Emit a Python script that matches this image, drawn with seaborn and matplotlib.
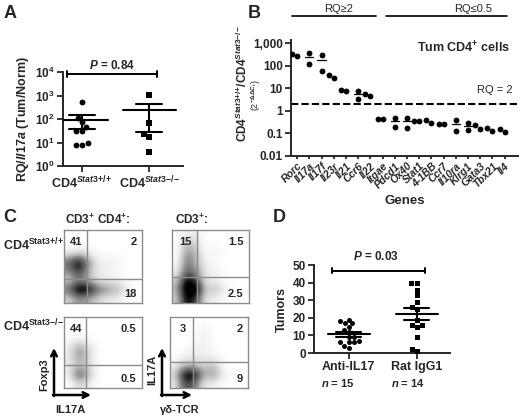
import numpy as np
import pandas as pd
import seaborn as sns
import matplotlib.pyplot as plt

# ---- data ----
# A: RQ of Il17a (tumour / normal)
a_order = ['wt', 'ko']
a_labels = [r'CD4$^{\mathit{Stat3{+}/{+}}}$', r'CD4$^{\mathit{Stat3{-}/{-}}}$']
a_wt = [520, 112, 72, 47, 32, 32, 10, 8, 8]
a_ko = [1080, 66, 23, 16.5, 4.1]

# B: fold change, two replicates per gene
genes = ['Rorc', 'Il17a', 'Il17f', 'Il23r', 'Il21', 'Ccr6', 'Il22', 'Itgae', 'Pdcd1',
         'Ox40', 'Stat1', '4-1BB', 'Ccr7', 'Il10ra', 'Klrg1', 'Gata3', 'Tbx21', 'Il4']
b_rep1 = [260, 380, 310, 28, 7.8, 7.9, 4.5, 0.42, 0.50, 0.50, 0.36, 0.30, 0.27, 0.39, 0.30, 0.16, 0.127, 0.118]
b_rep2 = [340, 115, 57, 40, 8.0, 3.5, 5.4, 0.43, 0.19, 0.18, 0.36, 0.40, 0.27, 0.13, 0.14, 0.235, 0.18, 0.16]
b_yticks = [0.01, 0.1, 1, 10, 100, 1000]
b_yticklabels = ['0.01', '0.1', '1', '10', '100', '1,000']

# C: flow plots, coarse density (row 0 = top)
c_tl = [[0, 0, 0, 0, 0, 0, 0, 0],
        [0, 0, 0, 0, 0, 0, 0, 0],
        [1, 2, 1, 0, 0, 0, 0, 0],
        [5, 8, 4, 1, 1, 1, 0, 0],
        [4, 7, 3, 1, 1, 0, 0, 0],
        [2, 4, 3, 1, 1, 1, 0, 0],
        [5, 9, 8, 5, 4, 3, 1, 0],
        [2, 4, 3, 2, 1, 1, 0, 0]]
c_tr = [[0, 1, 1, 0, 0, 0, 0, 0],
        [0, 3, 2, 0, 0, 0, 0, 0],
        [0, 4, 3, 0, 1, 0, 0, 0],
        [0, 5, 3, 1, 0, 0, 0, 0],
        [1, 5, 4, 1, 1, 0, 0, 0],
        [2, 8, 6, 1, 1, 0, 0, 0],
        [3, 9, 9, 2, 3, 1, 0, 0],
        [2, 8, 6, 1, 1, 0, 0, 0]]
c_bl = [[0, 0, 0, 0, 0, 0, 0, 0],
        [0, 0, 0, 0, 0, 0, 0, 0],
        [0, 1, 0, 0, 0, 0, 0, 0],
        [1, 4, 2, 0, 0, 0, 0, 0],
        [1, 4, 2, 0, 0, 0, 0, 0],
        [1, 3, 2, 0, 0, 0, 0, 0],
        [1, 6, 3, 0, 0, 0, 0, 0],
        [0, 2, 1, 0, 0, 0, 0, 0]]
c_br = [[0, 0, 0, 0, 0, 0, 0, 0],
        [0, 0, 0, 1, 0, 0, 0, 0],
        [0, 0, 0, 1, 0, 0, 0, 0],
        [0, 0, 1, 1, 0, 0, 0, 0],
        [0, 1, 1, 1, 1, 0, 0, 0],
        [1, 3, 3, 2, 3, 0, 0, 0],
        [2, 8, 8, 3, 4, 1, 0, 0],
        [1, 6, 5, 1, 1, 0, 0, 0]]
c_numbers = {'tl': ['41', '2', '18'], 'tr': ['15', '1.5', '2.5'],
             'bl': ['44', '0.5', '0.5'], 'br': ['3', '2', '9']}

# D: tumour counts
d_order = ['Anti-IL17', 'Rat IgG1']
d_anti = [19, 18, 17, 15, 17, 13, 12, 9, 7, 6, 9, 6, 6, 4, 3]
d_rat = [40, 40, 36, 33, 29, 26, 25, 19, 15, 16, 16, 9, 1, 2]
d_n = ['n = 15', 'n = 14']

# ---- style ----
sns.set_style('ticks')
plt.rcParams['font.family'] = ['Liberation Sans', 'DejaVu Sans']
plt.rcParams['font.weight'] = 'bold'
plt.rcParams['axes.labelweight'] = 'bold'
plt.rcParams['mathtext.fontset'] = 'custom'
plt.rcParams['mathtext.rm'] = 'Liberation Sans:bold'
plt.rcParams['mathtext.it'] = 'Liberation Sans:italic:bold'
plt.rcParams['mathtext.bf'] = 'Liberation Sans:bold'
plt.rcParams['axes.linewidth'] = 1.4

W, H = 520, 416
fig = plt.figure(figsize=(W / 100, H / 100), dpi=100)


def px(l, t, r, b):
    return [l / W, 1 - b / H, (r - l) / W, (b - t) / H]


def mean_sem(ax, x, vals, half_mean, half_cap):
    v = np.asarray(vals, float)
    m = v.mean()
    s = v.std(ddof=1) / np.sqrt(len(v))
    ax.plot([x - half_mean, x + half_mean], [m, m], color='k', lw=1.5, zorder=3)
    ax.errorbar(x, m, yerr=s, color='k', lw=1.5, capsize=0, zorder=3)
    for yy in (m - s, m + s):
        ax.plot([x - half_cap, x + half_cap], [yy, yy], color='k', lw=1.5, zorder=3)


def style_axes(ax):
    sns.despine(ax=ax)
    ax.tick_params(width=1.3, length=4, labelsize=8.5, pad=2)
    for lab in ax.get_xticklabels() + ax.get_yticklabels():
        lab.set_fontweight('bold')


# ---- A ----
axA = fig.add_axes(px(63, 72, 183, 166))
axA.set_yscale('log')
dfA = pd.DataFrame({'g': ['wt'] * len(a_wt) + ['ko'] * len(a_ko), 'v': a_wt + a_ko})
sns.swarmplot(data=dfA[dfA.g == 'wt'], x='g', y='v', order=a_order, color='k', size=4.2, marker='o', ax=axA)
sns.swarmplot(data=dfA[dfA.g == 'ko'], x='g', y='v', order=a_order, color='k', size=4.2, marker='s', ax=axA)
mean_sem(axA, 0, a_wt, 0.39, 0.19)
mean_sem(axA, 1, a_ko, 0.39, 0.19)
axA.set_ylim(1, 1e4)
axA.set_xlim(-0.28, 1.5)
axA.minorticks_off()
axA.set_yticks([1, 10, 100, 1000, 10000])
axA.set_xticks([0, 1])
axA.set_xticklabels(a_labels)
axA.set_xlabel('')
axA.set_ylabel(r'RQ/$\mathit{Il17a}$ (Tum/Norm)', fontsize=9, labelpad=3)
axA.plot([-0.22, 1.12], [8000, 8000], color='k', lw=1.4, clip_on=False)
for xx in (-0.22, 1.12):
    axA.plot([xx, xx], [6000, 10700], color='k', lw=1.4, clip_on=False)
axA.text(0.45, 19000, r'$\mathit{P}$ = 0.84', ha='center', va='center', fontsize=8.5)
style_axes(axA)
axA.tick_params(axis='x', labelsize=9)

# ---- B ----
axB = fig.add_axes(px(291, 40, 518, 156))
axB.set_yscale('log')
dfB = pd.DataFrame({'gene': genes * 2, 'v': b_rep1 + b_rep2})
sns.swarmplot(data=dfB, x='gene', y='v', order=genes, color='k', size=4.2, ax=axB)
for i, (r1, r2) in enumerate(zip(b_rep1, b_rep2)):
    if max(r1, r2) / min(r1, r2) > 1.8:
        m = (r1 + r2) / 2
        axB.plot([i - 0.33, i + 0.33], [m, m], color='k', lw=0.9, zorder=3)
axB.axhline(2, color='k', lw=1.5, ls=(0, (3.5, 1.5)), zorder=1)
axB.set_ylim(0.01, 1360)
axB.set_xlim(-0.5, 18.1)
axB.minorticks_off()
axB.set_yticks(b_yticks)
axB.set_yticklabels(b_yticklabels)
axB.set_xticks(range(len(genes)))
axB.set_xticklabels(genes, rotation=45, ha='right', rotation_mode='anchor')
axB.set_xlabel('Genes', fontsize=9.5, labelpad=4)
axB.set_ylabel('')
style_axes(axB)
axB.tick_params(axis='x', length=2.5, labelsize=7.5, pad=1)
axB.tick_params(axis='y', labelsize=8.5)
for lab in axB.get_xticklabels():
    lab.set_fontstyle('italic')
trB = axB.get_xaxis_transform()
axB.plot([-0.4, 6.5], [1.207, 1.207], color='k', lw=1.2, transform=trB, clip_on=False)
axB.plot([7.3, 17.2], [1.207, 1.207], color='k', lw=1.2, transform=trB, clip_on=False)
axB.text(3.4, 1.265, 'RQ≥2', ha='center', va='center', fontsize=8, fontweight='normal', transform=trB)
axB.text(14.4, 1.265, 'RQ≤0.5', ha='center', va='center', fontsize=8, fontweight='normal', transform=trB)
axB.text(17.5, 0.93, r'Tum CD4$^{+}$ cells', ha='right', va='center', fontsize=9, transform=trB)
axB.text(17.7, 0.57, 'RQ = 2', ha='right', va='center', fontsize=8, fontweight='normal', transform=trB)
fig.text(242 / W, 1 - 84 / H, r'CD4$^{\mathit{Stat3{+}/{+}}}$/CD4$^{\mathit{Stat3{-}/{-}}}$',
         rotation=90, ha='center', va='center', fontsize=8.5)
fig.text(256 / W, 1 - 95 / H, r'(2$^{-\Delta\Delta C_{t}}$)', rotation=90, ha='center', va='center',
         fontsize=6.5, fontweight='normal')

# ---- C ----
flow = [('tl', c_tl, (64, 230, 142, 303), 0.29, 0.33),
        ('tr', c_tr, (172, 230, 249, 303), 0.32, 0.36),
        ('bl', c_bl, (64, 317, 142, 388), 0.28, 0.32),
        ('br', c_br, (170, 317, 248, 388), 0.29, 0.37)]
for key, grid, box, gx, gy in flow:
    ax = fig.add_axes(px(*box))
    ax.imshow(np.array(grid, float), cmap='Greys', vmin=0, vmax=7.5, extent=(0, 1, 0, 1),
              interpolation='bicubic', aspect='auto')
    ax.axvline(gx, color='0.55', lw=1)
    ax.axhline(gy, color='0.55', lw=1)
    ax.set_xlim(0, 1)
    ax.set_ylim(0, 1)
    ax.set_xticks([])
    ax.set_yticks([])
    for sp in ax.spines.values():
        sp.set_color('0.55')
        sp.set_linewidth(1)
    n1, n2, n3 = c_numbers[key]
    ax.text(gx * 0.55, 0.83, n1, transform=ax.transAxes, ha='center', va='center', fontsize=8)
    ax.text(0.93, 0.83, n2, transform=ax.transAxes, ha='right', va='center', fontsize=8)
    ax.text(0.93, 0.13, n3, transform=ax.transAxes, ha='right', va='center', fontsize=8)

# ---- D ----
axD = fig.add_axes(px(314, 265, 450, 353))
dfD = pd.DataFrame({'g': ['Anti-IL17'] * len(d_anti) + ['Rat IgG1'] * len(d_rat), 'v': d_anti + d_rat})
sns.swarmplot(data=dfD[dfD.g == 'Anti-IL17'], x='g', y='v', order=d_order, color='k', size=3.6, marker='o', ax=axD)
sns.swarmplot(data=dfD[dfD.g == 'Rat IgG1'], x='g', y='v', order=d_order, color='k', size=3.6, marker='s', ax=axD)
mean_sem(axD, 0, d_anti, 0.31, 0.18)
mean_sem(axD, 1, d_rat, 0.31, 0.18)
axD.set_ylim(0, 50)
axD.set_xlim(-0.51, 1.49)
axD.set_yticks(range(0, 51, 10))
axD.set_xticks([0, 1])
axD.set_xticklabels(d_order)
axD.set_xlabel('')
axD.set_ylabel('Tumors', fontsize=9, labelpad=3)
axD.plot([-0.25, 1.12], [46.7, 46.7], color='k', lw=1.4, clip_on=False)
for xx in (-0.25, 1.12):
    axD.plot([xx, xx], [45.2, 48.2], color='k', lw=1.4, clip_on=False)
axD.text(0.4, 55, r'$\mathit{P}$ = 0.03', ha='center', va='center', fontsize=8.5)
style_axes(axD)
axD.tick_params(axis='x', labelsize=9)

# ---- overlay: panel letters, flow labels, arrows ----
ov = fig.add_axes([0, 0, 1, 1])
ov.set_xlim(0, W)
ov.set_ylim(H, 0)
ov.axis('off')
ov.patch.set_alpha(0)
for letter, (lx, ly) in {'A': (4, 13), 'B': (248, 13), 'C': (3, 218), 'D': (273, 218)}.items():
    ov.text(lx, ly, letter, fontsize=13, ha='left', va='center')
ov.text(65, 220, r'CD3$^{+}$ CD4$^{+}$:', fontsize=8.5, ha='left', va='center')
ov.text(175, 220, r'CD3$^{+}$:', fontsize=8.5, ha='left', va='center')
ov.text(3, 245, r'CD4$^{\mathrm{Stat3{+}/{+}}}$', fontsize=9, ha='left', va='center')
ov.text(3, 326, r'CD4$^{\mathrm{Stat3{-}/{-}}}$', fontsize=9, ha='left', va='center')
arrow = dict(arrowstyle='->', lw=1.8, color='k', shrinkA=0, shrinkB=0, mutation_scale=10)
for cx, cy, tx, rx in [(54, 395, 348, 91), (162, 395, 348, 192)]:
    ov.annotate('', xy=(cx, tx), xytext=(cx, cy + 1), arrowprops=arrow)
    ov.annotate('', xy=(rx, cy), xytext=(cx - 1, cy), arrowprops=arrow)
ov.text(44, 375, 'Foxp3', rotation=90, fontsize=8, ha='center', va='center')
ov.text(70, 410, 'IL17A', fontsize=8, ha='center', va='center')
ov.text(152, 370, 'IL17A', rotation=90, fontsize=8, ha='center', va='center')
ov.text(180, 410, 'γδ-TCR', fontsize=8, ha='center', va='center')
ov.text(338, 383, r'$\mathit{n}$ = 15', fontsize=8, ha='center', va='center')
ov.text(408, 383, r'$\mathit{n}$ = 14', fontsize=8, ha='center', va='center')

fig.savefig('out.png', dpi=100)
